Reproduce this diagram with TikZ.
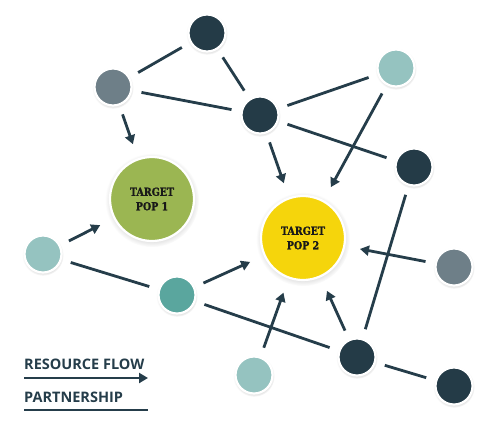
\documentclass[tikz,border=0pt]{standalone}
\usepackage{fontspec}
\setsansfont{Open Sans}
\newfontfamily\slabfont{DejaVu Serif}[FakeStretch=0.86, BoldFeatures={FakeBold=1.2}]
\usetikzlibrary{arrows.meta, shadows}
\usepackage{xcolor}

\definecolor{navy}{HTML}{243B47}
\definecolor{slate}{HTML}{6E7F88}
\definecolor{mist}{HTML}{95C3C0}
\definecolor{teal}{HTML}{5AA69E}
\definecolor{olive}{HTML}{9BB652}
\definecolor{sun}{HTML}{F5D50C}
\definecolor{wire}{HTML}{253D4A}

\begin{document}
\begin{tikzpicture}[
        x=1pt, y=-1pt,
        dot/.style={circle, draw=white, line width=2.2pt, minimum size=37pt, inner sep=0pt, outer sep=10.5pt,
            circular drop shadow={shadow xshift=0pt, shadow yshift=-1pt, shadow scale=1.12, opacity=0.25}},
        pop/.style={dot, minimum size=84pt, outer sep=16pt, align=center, text=black!90,
            font=\slabfont\bfseries\fontsize{11}{14.5}\selectfont},
        partner/.style={draw=wire, line width=2.8pt},
        flow/.style={partner, -{Triangle[length=9pt,width=10pt]}},
        legend/.style={anchor=base west, inner sep=0pt, text=wire, font=\sffamily\bfseries\fontsize{14.5}{16}\selectfont}
    ]
        \useasboundingbox (0,0) rectangle (500,429);

        % target populations
        \node [pop, fill=olive] (pop1) at (152,199) {TARGET\\POP 1};
        \node [pop, fill=sun] (pop2) at (303,238) {TARGET\\POP 2};

        % actors
        \node [dot, fill=navy] (top) at (207,33) {};
        \node [dot, fill=slate] (grey1) at (113,87) {};
        \node [dot, fill=navy] (hub) at (260,115) {};
        \node [dot, fill=mist] (mist1) at (396,68) {};
        \node [dot, fill=navy] (right1) at (414,167) {};
        \node [dot, fill=mist] (left1) at (43,254) {};
        \node [dot, fill=teal] (mid1) at (177,295) {};
        \node [dot, fill=mist] (low1) at (254,375) {};
        \node [dot, fill=navy] (low2) at (357,357) {};
        \node [dot, fill=slate] (grey2) at (454,267) {};
        \node [dot, fill=navy] (corner) at (454,386) {};

        % partnerships
        \draw [partner] (grey1) -- (top);
        \draw [partner] (top) -- (hub);
        \draw [partner] (grey1) -- (hub);
        \draw [partner] (hub) -- (mist1);
        \draw [partner] (hub) -- (right1);
        \draw [partner] (right1) -- (low2);
        \draw [partner] (low2) -- (corner);
        \draw [partner] (mid1) -- (low2);
        \draw [partner] (left1) -- (mid1);

        % resource flows
        \draw [flow] (grey1) -- (pop1);
        \draw [flow] (left1) -- (pop1);
        \draw [flow] (hub) -- (pop2);
        \draw [flow] (mist1) -- (pop2);
        \draw [flow] (grey2) -- (pop2);
        \draw [flow] (low2) -- (pop2);
        \draw [flow] (low1) -- (pop2);
        \draw [flow] (mid1) -- (pop2);

        % legend
        \node [legend] (flowlabel) at (24,369) {RESOURCE FLOW};
        \node [legend] (partlabel) at (24,402) {PARTNERSHIP};
        \coordinate (flowA) at (24,378);
        \coordinate (flowB) at (148,378);
        \coordinate (partA) at (24,410);
        \coordinate (partB) at (148,410);
        \draw [flow] (flowA) -- (flowB);
        \draw [partner] (partA) -- (partB);
    \end{tikzpicture}
\end{document}
